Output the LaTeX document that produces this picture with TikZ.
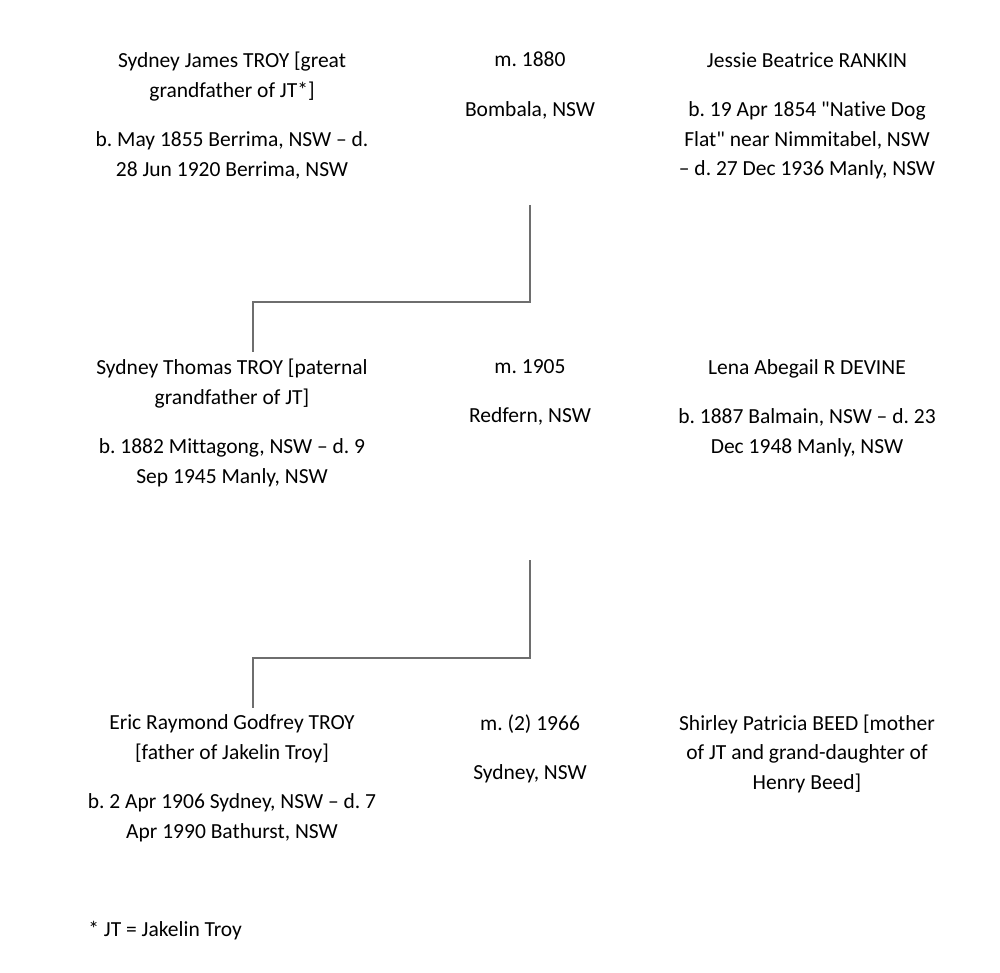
\documentclass[tikz,border=0pt]{standalone}
\usepackage{fontspec}
\setmainfont{Carlito}[Ligatures=NoCommon]
\usetikzlibrary{positioning}
\definecolor{linkgray}{RGB}{110,110,110}
\frenchspacing
\tikzset{
  person/.style={align=center, anchor=north, inner sep=0pt,
    font=\fontsize{10.75pt}{14.75pt}\selectfont, execute at begin node=\strut},
  link/.style={draw=linkgray, line width=0.65pt, shorten >=3.4pt},
}

\begin{document}
\begin{tikzpicture}[x=0.5pt, y=-0.5pt]
            \useasboundingbox (0,0) rectangle (1000,973);
            % first generation
            \node [person] (sjt) at (232,51.85) {Sydney James TROY [great\\grandfather of JT*]\\[10pt]b. May 1855 Berrima, NSW – d.\\28 Jun 1920 Berrima, NSW};
            \node [person] (m1) at (530,51.85) {m. 1880\\[10pt]Bombala, NSW};
            \node [person] (jbr) at (807,51.85) {Jessie Beatrice RANKIN\\[10pt]b. 19 Apr 1854 \textquotedbl Native Dog\\Flat\textquotedbl{} near Nimmitabel, NSW\\– d. 27 Dec 1936 Manly, NSW};
            % second generation
            \node [person] (stt) at (232,358.85) {Sydney Thomas TROY [paternal\\grandfather of JT]\\[10pt]b. 1882 Mittagong, NSW – d. 9\\Sep 1945 Manly, NSW};
            \node [person] (m2) at (530,358.85) {m. 1905\\[10pt]Redfern, NSW};
            \node [person] (lad) at (807,358.85) {Lena Abegail R DEVINE\\[10pt]b. 1887 Balmain, NSW – d. 23\\Dec 1948 Manly, NSW};
            % third generation
            \node [person] (ert) at (232,714.35) {Eric Raymond Godfrey TROY\\{[}father of Jakelin Troy]\\[10pt]b. 2 Apr 1906 Sydney, NSW – d. 7\\Apr 1990 Bathurst, NSW};
            \node [person] (m3) at (530,714.35) {m. (2) 1966\\[10pt]Sydney, NSW};
            \node [person] (spb) at (807,714.35) {Shirley Patricia BEED [mother\\of JT and grand-daughter of\\Henry Beed]};
            \node [person, anchor=base west] (note) at (88,936) {* JT = Jakelin Troy};
            % descent lines
            \coordinate (drop1) at (530,205);
            \coordinate (hook1) at (253,302);
            \coordinate (drop2) at (530,560);
            \coordinate (hook2) at (253,658);
            \draw [link] (drop1) |- (hook1) -- (hook1 |- stt.north);
            \draw [link] (drop2) |- (hook2) -- (hook2 |- ert.north);
        \end{tikzpicture}
\end{document}
